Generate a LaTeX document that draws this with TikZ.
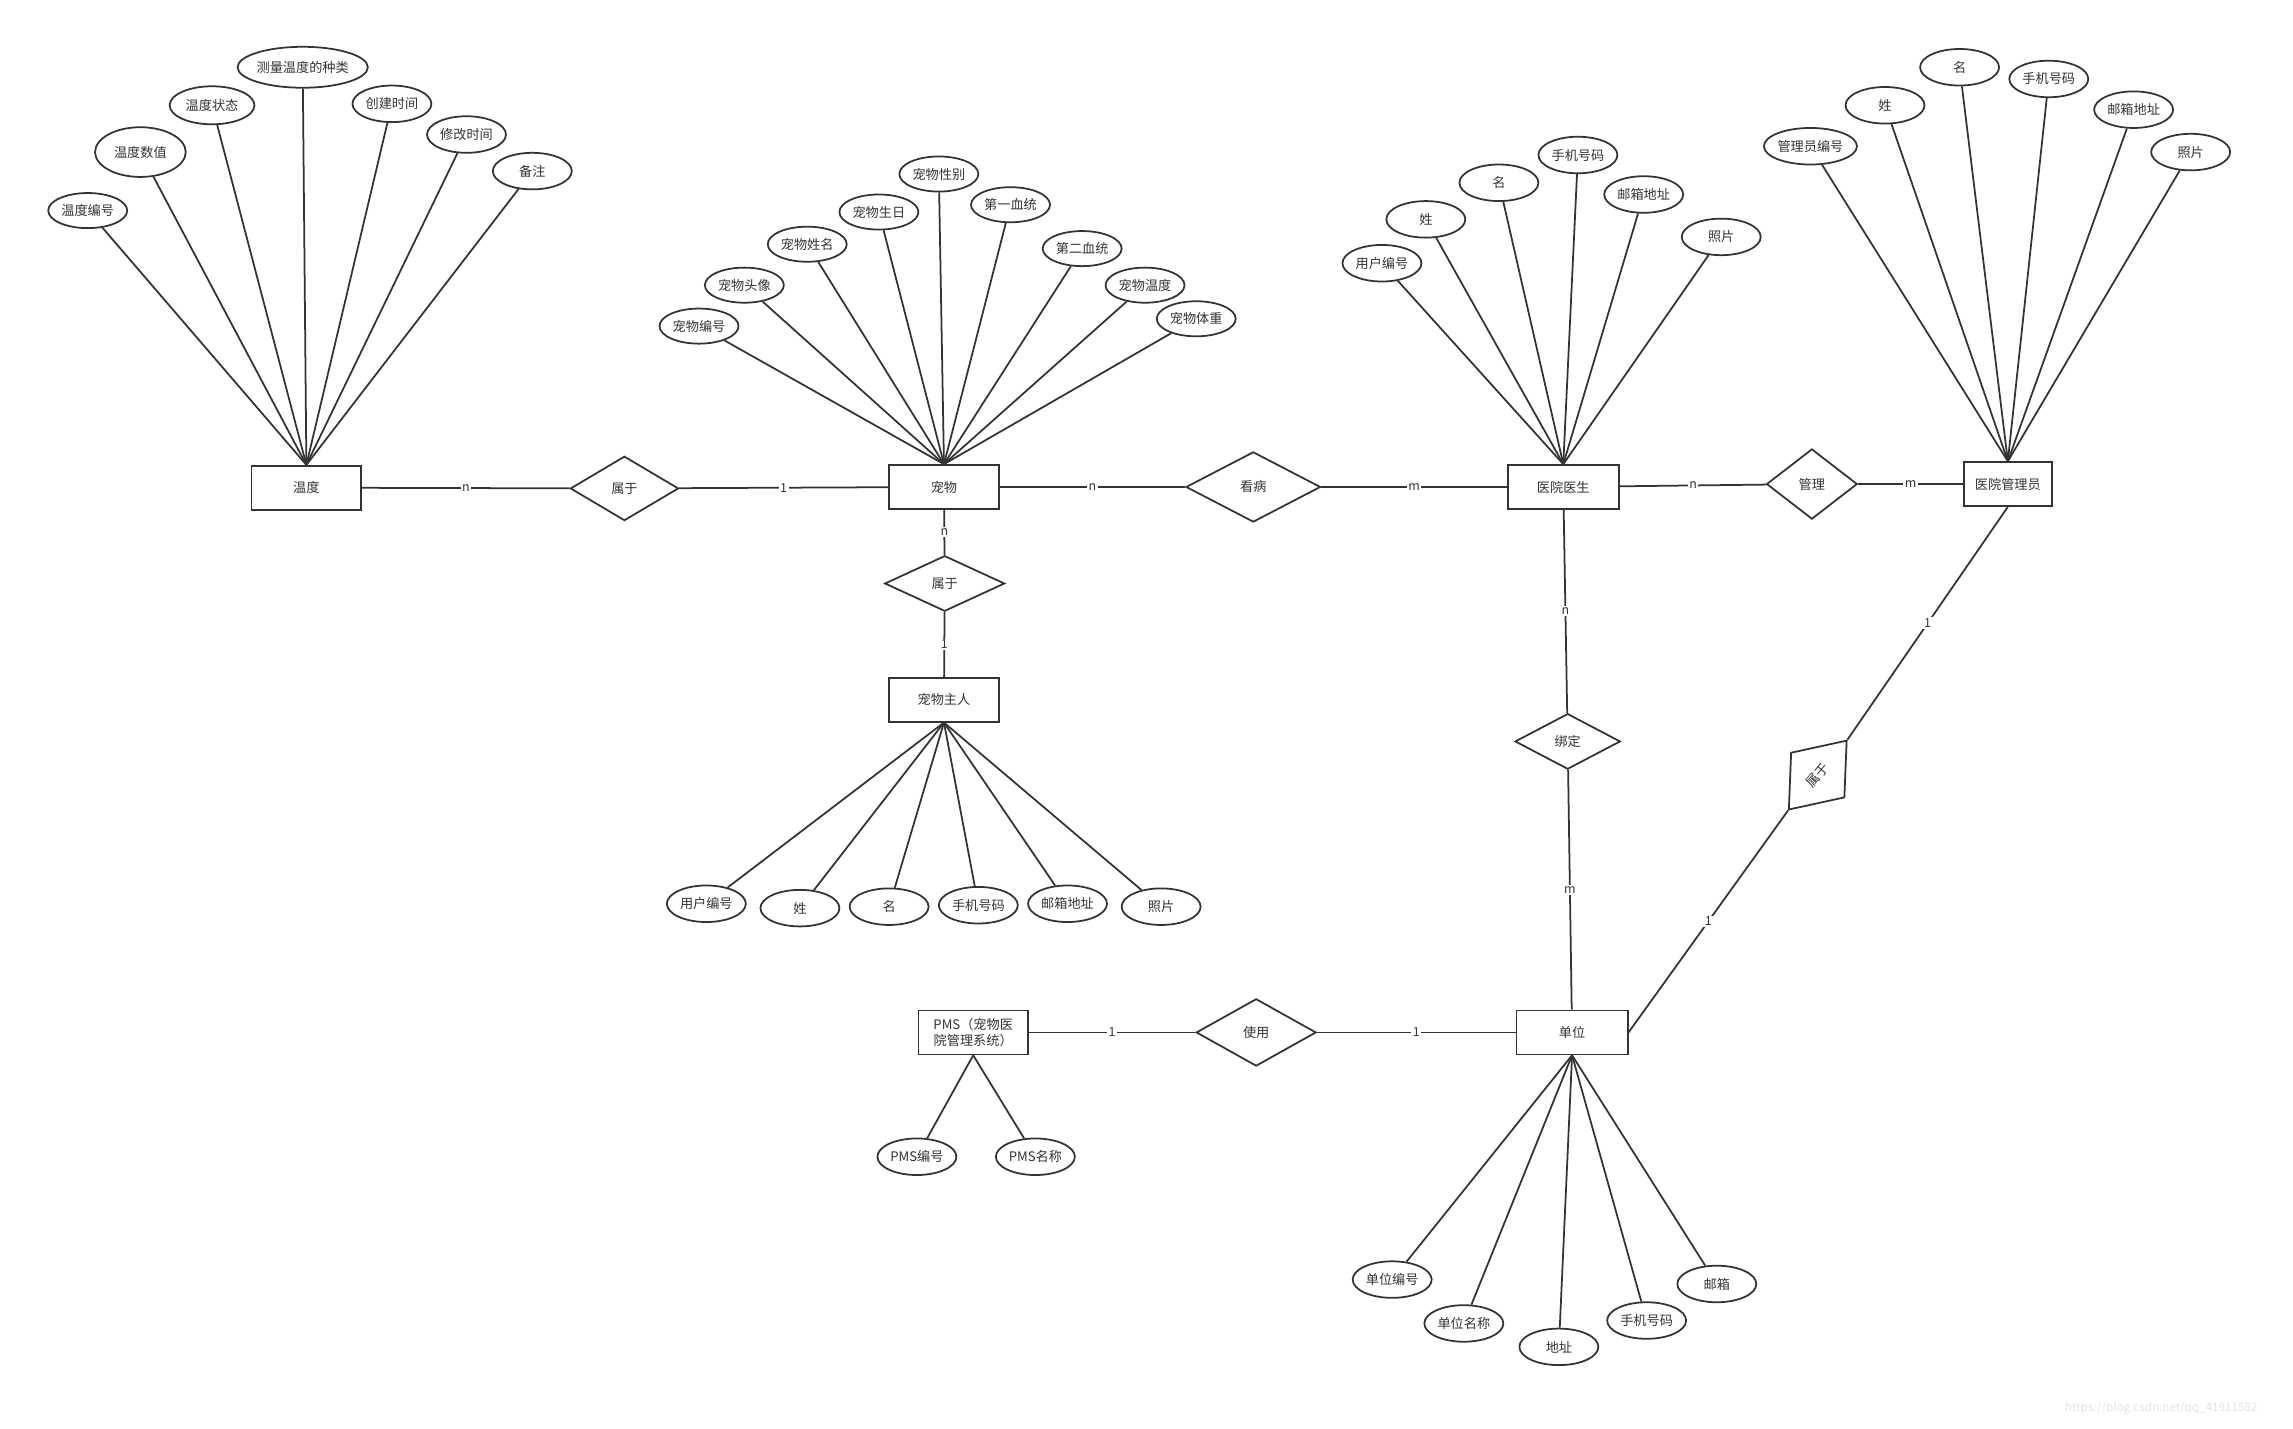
\documentclass[tikz,border=0pt]{standalone}
\usepackage{fontspec}
\setmainfont{Noto Sans CJK SC}
\usepackage{tikz}
\usetikzlibrary{shapes.geometric}
\definecolor{lineGray}{HTML}{333333}
\tikzset{
    entity/.style={
        ,   draw
        ,   rectangle
        ,   minimum width=75pt
        ,   minimum height=30pt
        ,   inner sep=1pt
        ,   fill=white
    },
    attrib/.style={
        ,   draw
        ,   ellipse
        ,   inner sep=0pt
        ,   fill=white
    },
    relation/.style={
        ,   draw
        ,   diamond
        ,   inner sep=0pt
        ,   fill=white
    },
    card/.style={
        ,   fill=white
        ,   inner sep=1pt
        ,   font={\fontsize{8.5}{9}\selectfont}
    }
}

\begin{document}
\begin{tikzpicture}[x=1pt, y=-1pt, line width=1.2pt, draw=lineGray, text=lineGray, font={\fontsize{9}{10.5}\selectfont}]
\useasboundingbox[fill=white] (0,0) rectangle (1568,976.5);

% entities
\node[entity] (wd) at (209.5,333.5) {温度};
\node[entity] (cw) at (645.5,333) {宠物};
\node[entity, minimum width=76pt] (ys) at (1069,333) {医院医生};
\node[entity, minimum width=60pt] (gly) at (1373,331) {医院管理员};
\node[entity] (zr) at (645.5,478.5) {宠物主人};
\node[entity, minimum width=76pt] (dw) at (1075,706) {单位};
\node[entity, align=center] (pms) at (665.5,706) {PMS（宠物医\\院管理系统）};

% relations
\node[relation, minimum width=74pt, minimum height=44pt] (sy1) at (427,334) {属于};
\node[relation, minimum width=92pt, minimum height=48pt] (kb) at (857,333) {看病};
\node[relation, minimum width=62pt, minimum height=48pt] (gl) at (1239,331) {管理};
\node[relation, minimum width=82pt, minimum height=38pt] (sy2) at (646,399) {属于};
\node[relation, minimum width=72pt, minimum height=38pt] (bd) at (1072,507) {绑定};
\node[relation, minimum width=62pt, minimum height=48pt, rotate=50] (sy3) at (1243,530) {属于};
\node[relation, minimum width=82pt, minimum height=46pt] (sy4) at (859,706) {使用};

% connectors with cardinality
\draw (wd) -- node[card]{n} (sy1);
\draw (sy1) -- node[card]{1} (cw);
\draw (cw) -- node[card]{n} (kb);
\draw (kb) -- node[card]{m} (ys);
\draw (ys) -- node[card]{n} (gl);
\draw (gl) -- node[card]{m} (gly);
\draw (cw) -- node[card]{n} (sy2);
\draw (sy2) -- node[card]{1} (zr);
\draw (ys) -- node[card]{n} (bd);
\draw (bd) -- node[card]{m} (dw);
\draw (gly.south) -- node[card]{1} (sy3.east);
\draw (sy3.west) -- node[card]{1} (dw.east);
\draw (pms) -- node[card]{1} (sy4);
\draw (sy4) -- node[card]{1} (dw);

% attributes of 温度
\foreach \nm/\xy/\w/\h/\txt in {
    wdbh/{60,144}/54/24/温度编号,
    wdsz/{96,104}/62/34/温度数值,
    wdzt/{145,72}/58/26/温度状态,
    wdzl/{207,46}/78/28/测量温度的种类,
    wdcj/{268,71}/54/25/创建时间,
    wdxg/{319,92}/54/25/修改时间,
    wdbz/{364,117}/54/25/备注}{
  \node[attrib, minimum width=\w pt, minimum height=\h pt] (\nm) at (\xy) {\txt};
  \draw (\nm) -- (wd.north);
}

% attributes of 宠物
\foreach \nm/\xy/\txt in {
    cwbh/{478,223}/宠物编号,
    cwtx/{509,195}/宠物头像,
    cwxm/{552,167}/宠物姓名,
    cwsr/{601,145}/宠物生日,
    cwxb/{642,119}/宠物性别,
    cwxt1/{691,140}/第一血统,
    cwxt2/{740,170}/第二血统,
    cwwd/{783,195}/宠物温度,
    cwtz/{818,218}/宠物体重}{
  \node[attrib, minimum width=54pt, minimum height=24pt] (\nm) at (\xy) {\txt};
  \draw (\nm) -- (cw.north);
}

% attributes of 医院医生
\foreach \nm/\xy/\txt in {
    ysbh/{945,180}/用户编号,
    ysx/{975,150}/姓,
    ysm/{1025,125}/名,
    yssj/{1079,106}/手机号码,
    ysyx/{1124,133}/邮箱地址,
    yszp/{1177,162}/照片}{
  \node[attrib, minimum width=54pt, minimum height=25pt] (\nm) at (\xy) {\txt};
  \draw (\nm) -- (ys.north);
}

% attributes of 医院管理员
\foreach \nm/\xy/\w/\txt in {
    glbh/{1238,100}/60/管理员编号,
    glx/{1289,72}/54/姓,
    glm/{1340,46}/54/名,
    glsj/{1401,54}/54/手机号码,
    glyx/{1459,75}/54/邮箱地址,
    glzp/{1498,104}/54/照片}{
  \node[attrib, minimum width=\w pt, minimum height=25pt] (\nm) at (\xy) {\txt};
  \draw (\nm) -- (gly.north);
}

% attributes of 宠物主人
\foreach \nm/\xy/\txt in {
    zrbh/{483,618}/用户编号,
    zrx/{547,621}/姓,
    zrm/{608,620}/名,
    zrsj/{669,619}/手机号码,
    zryx/{730,618}/邮箱地址,
    zrzp/{794,620}/照片}{
  \node[attrib, minimum width=54pt, minimum height=25pt] (\nm) at (\xy) {\txt};
  \draw (\nm) -- (zr.south);
}

% attributes of 单位
\foreach \nm/\xy/\txt in {
    dwbh/{952,875}/单位编号,
    dwmc/{1001,905}/单位名称,
    dwdz/{1066,921}/地址,
    dwsj/{1126,903}/手机号码,
    dwyx/{1174,878}/邮箱}{
  \node[attrib, minimum width=54pt, minimum height=25pt] (\nm) at (\xy) {\txt};
  \draw (\nm) -- (dw.south);
}

% attributes of PMS
\foreach \nm/\xy/\txt in {
    pmsbh/{627,791}/PMS编号,
    pmsmc/{708,791}/PMS名称}{
  \node[attrib, minimum width=54pt, minimum height=25pt] (\nm) at (\xy) {\txt};
  \draw (\nm) -- (pms.south);
}

\node[text=black!10, font={\fontsize{8}{9}\selectfont}] (mark) at (1478,963) {https://blog.csdn.net/qq\_41911582};
\end{tikzpicture}
\end{document}
